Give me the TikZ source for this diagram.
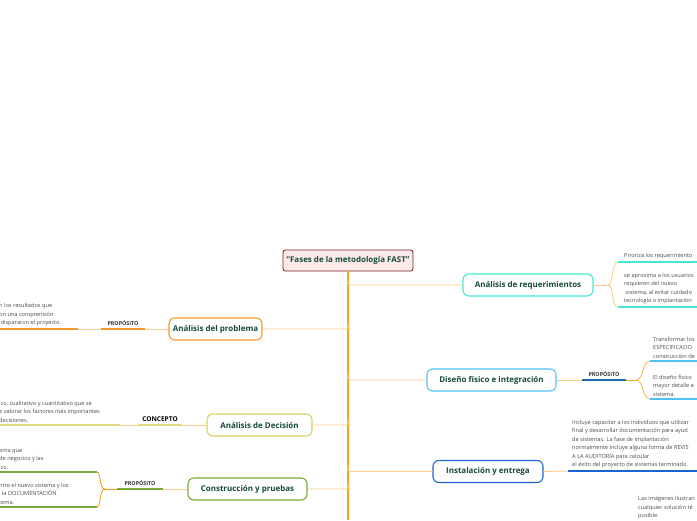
\documentclass[tikz,border=0pt]{standalone}
\usepackage{fontspec}
\setmainfont{Open Sans}
\definecolor{titulofondo}{HTML}{FBEAEA}
\definecolor{tituloborde}{HTML}{7B1E1E}
\definecolor{textoverde}{HTML}{17493A}
\definecolor{tronco}{HTML}{F7A21B}
\definecolor{ramaclara}{HTML}{FCCD8C}
\definecolor{cian}{HTML}{45E8D8}
\definecolor{celeste}{HTML}{4CC2F5}
\definecolor{azul}{HTML}{1E63D6}
\definecolor{azuloscuro}{HTML}{1C6DB0}
\definecolor{naranja}{HTML}{F39A2A}
\definecolor{amarillo}{HTML}{D9D15A}
\definecolor{verde}{HTML}{7BA935}
\definecolor{gristexto}{HTML}{4A4A4A}
\tikzset{
  tema/.style={draw, line width=0.9pt, rounded corners=5pt, fill=white, minimum height=0.66cm,
    font=\fontsize{6.8}{7.5}\selectfont\bfseries, text=textoverde, inner sep=1pt},
  rama/.style={draw=ramaclara, line width=0.8pt, rounded corners=2pt},
  subrayado/.style={line width=1.1pt},
  texto/.style={font=\fontsize{4.8}{7.3}\selectfont, text=gristexto, align=left, inner sep=0pt},
  etiqueta/.style={font=\fontsize{4.6}{5}\selectfont\bfseries, text=black!80, inner sep=0pt, anchor=south}
}
\begin{document}
\begin{tikzpicture}[x=0.03cm, y=-0.03cm]
\useasboundingbox (0,0) rectangle (697,520);
\clip (0,0) rectangle (697,520);

% tema central y tronco
\node[draw=tituloborde, fill=titulofondo, line width=0.7pt, rounded corners=2pt,
  minimum width=3.9cm, minimum height=0.63cm, inner sep=1pt, text=textoverde,
  font=\fontsize{6.8}{7.5}\selectfont\bfseries] (titulo) at (348,260.5) {"Fases de la metodología FAST"};
\coordinate (fin) at (348,520);
\draw[tronco, line width=1pt] (titulo.south) -- (fin);

% puntos del tronco
\coordinate (t1) at (348,279);
\coordinate (t2) at (348,323);
\coordinate (t3) at (348,374);
\coordinate (t4) at (348,419);
\coordinate (t5) at (348,465);
\coordinate (t6) at (348,483);

% temas
\node[tema, draw=cian, minimum width=3.9cm] (req) at (528,285) {Análisis de requerimientos};
\node[tema, draw=celeste, minimum width=3.87cm] (dis) at (491.5,380) {Diseño físico e integración};
\node[tema, draw=azul, minimum width=3.3cm] (ins) at (488,471.5) {Instalación y entrega};
\node[tema, draw=naranja, minimum width=2.79cm] (prob) at (215.5,329) {Análisis del problema};
\node[tema, draw=amarillo, minimum width=3.15cm] (dec) at (259.5,425) {Análisis de Decisión};
\node[tema, draw=verde, minimum width=3.57cm] (con) at (247.5,489) {Construcción y pruebas};

\draw[rama] (t1) |- (req.west);
\draw[rama] (t3) |- (dis.west);
\draw[rama] (t5) |- (ins.west);
\draw[rama] (t2) |- (prob.east);
\draw[rama] (t4) |- (dec.east);
\draw[rama] (t6) |- (con.east);

% Análisis de requerimientos
\coordinate (r0) at (608,285);
\coordinate (r1) at (618,262);
\coordinate (r2) at (618,307);
\node[texto, anchor=south west] (req1) at (624,259.5) {Prioriza los requerimiento};
\node[texto, anchor=south west] (req2) at (624,304.5) {se aproxima a los usuarios\\requieren del nuevo\\\ sistema, al evitar cuidado\\tecnología o implantación};
\draw[rama] (req.east) -- (r0);
\draw[ramaclara, line width=0.8pt] (r0) .. controls (614,285) and (611,262) .. (r1);
\draw[ramaclara, line width=0.8pt] (r0) .. controls (614,285) and (611,307) .. (r2);
\draw[subrayado, cian] (r1) -- (697,262);
\draw[subrayado, cian] (r2) -- (697,307);

% Diseño físico e integración
\coordinate (d0) at (582,380);
\coordinate (d1) at (626,380);
\coordinate (d2) at (636,380);
\coordinate (d3) at (650,361);
\coordinate (d4) at (650,399);
\node[etiqueta] (dprop) at (604,377) {PROPÓSITO};
\draw[rama] (dis.east) -- (d0);
\draw[subrayado, azuloscuro] (d0) -- (d1);
\draw[tronco, line width=0.8pt] (d1) -- (d2);
\draw[tronco!70, line width=0.8pt] (d2) .. controls (644,380) and (642,361) .. (d3);
\draw[tronco!70, line width=0.8pt] (d2) .. controls (644,380) and (642,399) .. (d4);
\node[texto, anchor=south west] (dis1) at (653,358.5) {Transformar los\\ESPECIFICACIO\\construcción de};
\node[texto, anchor=south west] (dis2) at (653,396.5) {El diseño físico\\mayor detalle e\\sistema.};
\draw[subrayado, celeste] (d3) -- (697,361);
\draw[subrayado, celeste] (d4) -- (697,399);

% Instalación y entrega
\coordinate (i0) at (568,471);
\node[texto, anchor=south west] (ins1) at (572,468.5) {Incluye capacitar a los individuos que utilizar\\final y desarrollar documentación para ayud\\de sistemas. La fase de implantación\\normalmente incluye alguna forma de REVIS\\A LA AUDITORÍA para calcular\\el éxito del proyecto de sistemas terminado.};
\draw[rama] (ins.east) -- (i0);
\draw[subrayado, azul] (i0) -- (697,471);

% rama inferior
\node[texto, anchor=north west] (img1) at (638,496) {Las imágenes ilustran\\cualquier solución té\\posible.};

% Análisis del problema
\coordinate (p0) at (145,329);
\coordinate (p1) at (101,329);
\coordinate (p2) at (78,329);
\node[etiqueta] (pprop) at (123,326) {PROPÓSITO};
\node[texto, anchor=south west] (prob1) at (-1,326.5) {n los resultados que\\on una comprensión\\\ dispararon el proyecto.};
\draw[rama] (prob.west) -- (p0);
\draw[subrayado, naranja] (p0) -- (p1);
\draw[ramaclara, line width=0.8pt] (p1) -- (p2);
\draw[subrayado, naranja] (p2) -- (0,329);

% Análisis de Decisión
\coordinate (c0) at (182,425);
\coordinate (c1) at (138,425);
\coordinate (c2) at (120,425);
\node[etiqueta, font=\fontsize{5.6}{6}\selectfont\bfseries, text=black] (cconc) at (160,421.5) {CONCEPTO};
\node[texto, anchor=south west] (dec1) at (-1,422.5) {ico, cualitativo y cuantitativo que se\\e valorar los factores más importantes\\decisiones.};
\draw[rama] (dec.west) -- (c0);
\draw[subrayado, amarillo!80] (c0) -- (c1);
\draw[ramaclara, line width=0.8pt] (c1) -- (c2);
\draw[subrayado, amarillo!80] (c2) -- (0,425);

% Construcción y pruebas
\coordinate (k0) at (163,489);
\coordinate (k1) at (117,489);
\coordinate (k2) at (105,489);
\coordinate (k3) at (97,472);
\coordinate (k4) at (97,507);
\node[etiqueta] (kprop) at (140,486) {PROPÓSITO};
\node[texto, anchor=south west] (con1) at (-1,469.5) {ema que\\de negocios y las\\ico.};
\node[texto, anchor=south west] (con2) at (-1,504.5) {ntre el nuevo sistema y los\\, la DOCUMENTACIÓN\\tema.};
\draw[rama] (con.west) -- (k0);
\draw[subrayado, verde] (k0) -- (k1);
\draw[tronco, line width=0.8pt] (k1) -- (k2);
\draw[tronco, line width=0.8pt] (k2) .. controls (99,489) and (101,472) .. (k3);
\draw[tronco, line width=0.8pt] (k2) .. controls (99,489) and (101,507) .. (k4);
\draw[subrayado, verde] (k3) -- (0,472);
\draw[subrayado, verde] (k4) -- (0,507);
\end{tikzpicture}
\end{document}
